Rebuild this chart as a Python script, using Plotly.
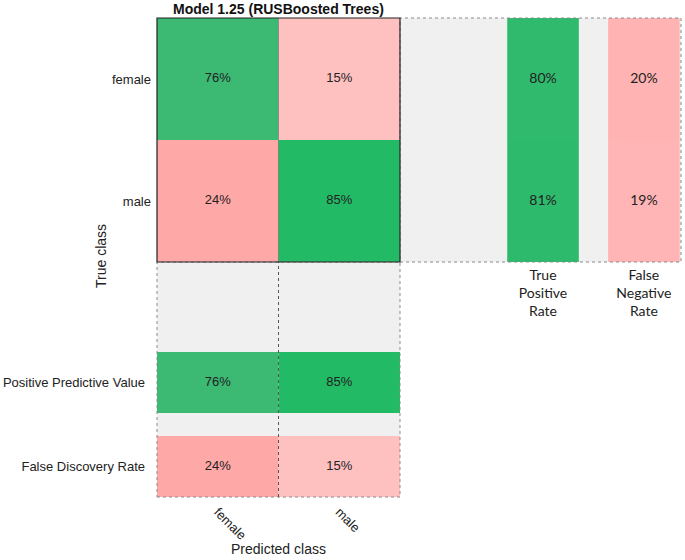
import plotly.graph_objects as go

# ---- data ----
classes = ["female", "male"]
# column-normalised confusion matrix (%), rows = true class, cols = predicted class
cm_pct = [[76, 15],
          [24, 85]]
tpr = [80, 81]          # True Positive Rate per true class
fnr = [20, 19]          # False Negative Rate per true class
ppv = [76, 85]          # Positive Predictive Value per predicted class
fdr = [24, 15]          # False Discovery Rate per predicted class
row_summary_labels = ["True<br>Positive<br>Rate", "False<br>Negative<br>Rate"]
col_summary_labels = ["Positive Predictive Value", "False Discovery Rate"]
title = "Model 1.25 (RUSBoosted Trees)"


def green(v):
    r = 60 - 2.9 * (v - 76)
    b = 116 - 1.67 * (v - 76)
    return f"rgb({r:.0f},186,{b:.0f})"


def red(v):
    g = 192 - 2.67 * (v - 15)
    return f"rgb(255,{g:.0f},{g:.0f})"


W, H = 685, 560
px = lambda x: x / W
py = lambda y: 1 - y / H

FONT = "Liberation Sans, Arial, sans-serif"
FONT2 = "Lato, Open Sans, sans-serif"
GRAY = "#f0f0f0"

fig = go.Figure()

# ---- main matrix ----
mx, my, mbase, mcol, mtxt = [], [], [], [], []
for r in range(len(classes)):
    for c in range(len(classes)):
        v = cm_pct[r][c]
        mx.append(c)
        my.append(1)
        mbase.append(r - 0.5)
        mcol.append(green(v) if r == c else red(v))
        mtxt.append(f"{v}%")
fig.add_trace(go.Bar(x=mx, y=my, base=mbase, width=1, marker=dict(color=mcol, line=dict(width=0)),
                     xaxis="x", yaxis="y", hoverinfo="skip", showlegend=False))
fig.add_trace(go.Scatter(x=mx, y=[b + 0.5 for b in mbase], text=mtxt, mode="text",
                         textfont=dict(family=FONT, size=13, color="#222"),
                         xaxis="x", yaxis="y", hoverinfo="skip", showlegend=False))

# ---- row summary (right) ----
rx, rbase, rcol, rtxt = [], [], [], []
for r in range(len(classes)):
    for k, (vals, good) in enumerate([(tpr, True), (fnr, False)]):
        v = vals[r]
        rx.append(k)
        rbase.append(r - 0.5)
        rcol.append(green(v) if good else red(v))
        rtxt.append(f"{v}%")
fig.add_trace(go.Bar(x=rx, y=[1] * len(rx), base=rbase, width=0.71,
                     marker=dict(color=rcol, line=dict(width=0)),
                     xaxis="x2", yaxis="y2", hoverinfo="skip", showlegend=False))
fig.add_trace(go.Scatter(x=rx, y=[b + 0.5 for b in rbase], text=rtxt, mode="text",
                         textfont=dict(family=FONT2, size=14, color="#222"),
                         xaxis="x2", yaxis="y2", hoverinfo="skip", showlegend=False))

# ---- column summary (bottom) ----
bh = 0.726
bx, bbase, bcol, btxt, by = [], [], [], [], []
for k, (vals, good) in enumerate([(ppv, True), (fdr, False)]):
    for c in range(len(classes)):
        v = vals[c]
        bx.append(c)
        bbase.append(k - bh / 2)
        by.append(k)
        bcol.append(green(v) if good else red(v))
        btxt.append(f"{v}%")
fig.add_trace(go.Bar(x=bx, y=[bh] * len(bx), base=bbase, width=1,
                     marker=dict(color=bcol, line=dict(width=0)),
                     xaxis="x3", yaxis="y3", hoverinfo="skip", showlegend=False))
fig.add_trace(go.Scatter(x=bx, y=by, text=btxt, mode="text",
                         textfont=dict(family=FONT, size=13, color="#222"),
                         xaxis="x3", yaxis="y3", hoverinfo="skip", showlegend=False))

shapes = [
    # gray backgrounds
    dict(type="rect", xref="x2 domain", yref="y2 domain", x0=0, x1=1, y0=0, y1=1,
         fillcolor=GRAY, line=dict(width=0), layer="below"),
    dict(type="rect", xref="x3 domain", yref="y3 domain", x0=0, x1=1, y0=0, y1=1,
         fillcolor=GRAY, line=dict(width=0), layer="below"),
    # dotted borders
    dict(type="rect", xref="x2 domain", yref="y2 domain", x0=0, x1=1, y0=0, y1=1,
         line=dict(width=1, dash="dot", color="#8a8a8a"), layer="above"),
    dict(type="rect", xref="x3 domain", yref="y3 domain", x0=0, x1=1, y0=0, y1=1,
         line=dict(width=1, dash="dot", color="#8a8a8a"), layer="above"),
    dict(type="line", xref="x3", yref="y3 domain", x0=0.5, x1=0.5, y0=0, y1=1,
         line=dict(width=1, dash="dot", color="#555"), layer="above"),
    # main matrix: faint column separator + solid border
    dict(type="line", xref="x", yref="y domain", x0=0.5, x1=0.5, y0=0, y1=1,
         line=dict(width=1, color="rgba(80,80,80,0.5)"), layer="above"),
    dict(type="rect", xref="x domain", yref="y domain", x0=0, x1=1, y0=0, y1=1,
         line=dict(width=1.2, color="#222"), layer="above"),
]

noaxis = dict(showgrid=False, zeroline=False, showline=False, ticks="")

fig.update_layout(
    width=W, height=H, margin=dict(l=0, r=0, t=0, b=0),
    paper_bgcolor="white", plot_bgcolor="rgba(0,0,0,0)",
    barmode="overlay", showlegend=False,
    font=dict(family=FONT, size=13, color="#222"),
    xaxis=dict(domain=[px(157), px(400)], range=[-0.5, 1.5], showticklabels=False,
               anchor="y", fixedrange=True, **noaxis),
    yaxis=dict(domain=[py(262), py(18)], range=[1.5, -0.5], tickvals=[0, 1], ticktext=classes,
               anchor="x", tickfont=dict(family=FONT, size=13, color="#222"),
               ticklabelstandoff=5, fixedrange=True, **noaxis),
    xaxis2=dict(domain=[px(400), px(681)], range=[-1.418, 1.368], tickvals=[0, 1],
                ticktext=row_summary_labels, anchor="y2",
                tickfont=dict(family=FONT2, size=14, color="#222"),
                ticklabelstandoff=3, fixedrange=True, **noaxis),
    yaxis2=dict(domain=[py(262), py(18)], range=[1.5, -0.5], showticklabels=False,
                anchor="x2", fixedrange=True, **noaxis),
    xaxis3=dict(domain=[px(157), px(400)], range=[-0.5, 1.5], tickvals=[0, 1], ticktext=classes,
                tickangle=45, anchor="y3", tickfont=dict(family=FONT, size=13, color="#222"),
                ticklabelstandoff=4, fixedrange=True, **noaxis),
    yaxis3=dict(domain=[py(497), py(262)], range=[1.363, -1.434], tickvals=[0, 1],
                ticktext=col_summary_labels, anchor="x3",
                tickfont=dict(family=FONT, size=13, color="#222"),
                ticklabelstandoff=11, fixedrange=True, **noaxis),
    shapes=shapes,
    annotations=[
        dict(text=f"<b>{title}</b>", x=px(278), y=py(9), xref="paper", yref="paper",
             xanchor="center", yanchor="middle",
             showarrow=False, font=dict(family=FONT, size=14, color="#111")),
        dict(text="Predicted class", x=px(278), y=py(549), xref="paper", yref="paper",
             xanchor="center", yanchor="middle",
             showarrow=False, font=dict(family=FONT, size=14, color="#222")),
        dict(text="True class", x=px(101), y=py(256), xref="paper", yref="paper",
             xanchor="center", yanchor="middle",
             showarrow=False, textangle=-90, font=dict(family=FONT, size=14, color="#222")),
    ],
)

# remove the default page margin so the figure fills the window from its top-left corner
fig.write_html("out.html", config={"displayModeBar": False},
               post_script="document.body.style.margin='0px';")
